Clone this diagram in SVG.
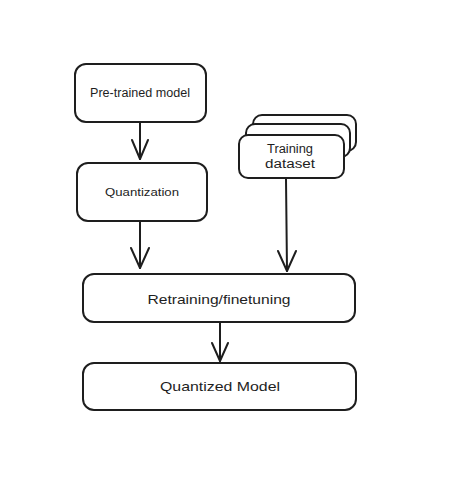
<svg xmlns="http://www.w3.org/2000/svg" width="474" height="485" viewBox="0 0 474 485">
<defs>
<style>
.box{fill:#ffffff;stroke:#1e1e1e;stroke-width:2;}
.ln{fill:none;stroke:#1e1e1e;stroke-width:2;stroke-linecap:round;stroke-linejoin:round;}
.t{font-family:"Liberation Sans",Arial,sans-serif;fill:#1e1e1e;text-anchor:middle;dominant-baseline:central;}
</style>
</defs>
<rect width="474" height="485" fill="#ffffff"/>
<g id="connectors">
<path class="ln" d="M140,123 L140,159"/>
<path class="ln" d="M132,140 L140,159 L148,140"/>
<path class="ln" d="M140,222 L140,268"/>
<path class="ln" d="M131,248 L140,268 L149,248"/>
<path class="ln" d="M286,179 L287,271"/>
<path class="ln" d="M278,251 L287,271 L296,251"/>
<path class="ln" d="M220,323 L220,361"/>
<path class="ln" d="M212,343 L220,361 L228,343"/>
</g>
<g id="pretrained">
<rect class="box" x="75" y="64" width="131" height="58" rx="11"/>
<text class="t" x="140" y="93" font-size="12" textLength="100" lengthAdjust="spacingAndGlyphs">Pre-trained model</text>
</g>
<g id="quantization">
<rect class="box" x="77" y="163" width="130" height="58" rx="11"/>
<text class="t" x="142" y="192" font-size="11" textLength="74" lengthAdjust="spacingAndGlyphs">Quantization</text>
</g>
<g id="training">
<rect class="box" x="253" y="115" width="103" height="36" rx="9"/>
<rect class="box" x="246" y="124" width="104" height="33" rx="9"/>
<rect class="box" x="239" y="135" width="105" height="43" rx="9"/>
<text class="t" x="290" y="149" font-size="12" textLength="46" lengthAdjust="spacingAndGlyphs">Training</text>
<text class="t" x="290" y="164" font-size="12" textLength="50" lengthAdjust="spacingAndGlyphs">dataset</text>
</g>
<g id="retraining">
<rect class="box" x="83" y="274" width="272" height="48" rx="11"/>
<text class="t" x="219" y="299" font-size="13" textLength="143" lengthAdjust="spacingAndGlyphs">Retraining/finetuning</text>
</g>
<g id="quantized">
<rect class="box" x="83" y="363" width="273" height="47" rx="11"/>
<text class="t" x="220" y="386" font-size="13" textLength="120" lengthAdjust="spacingAndGlyphs">Quantized Model</text>
</g>
</svg>
